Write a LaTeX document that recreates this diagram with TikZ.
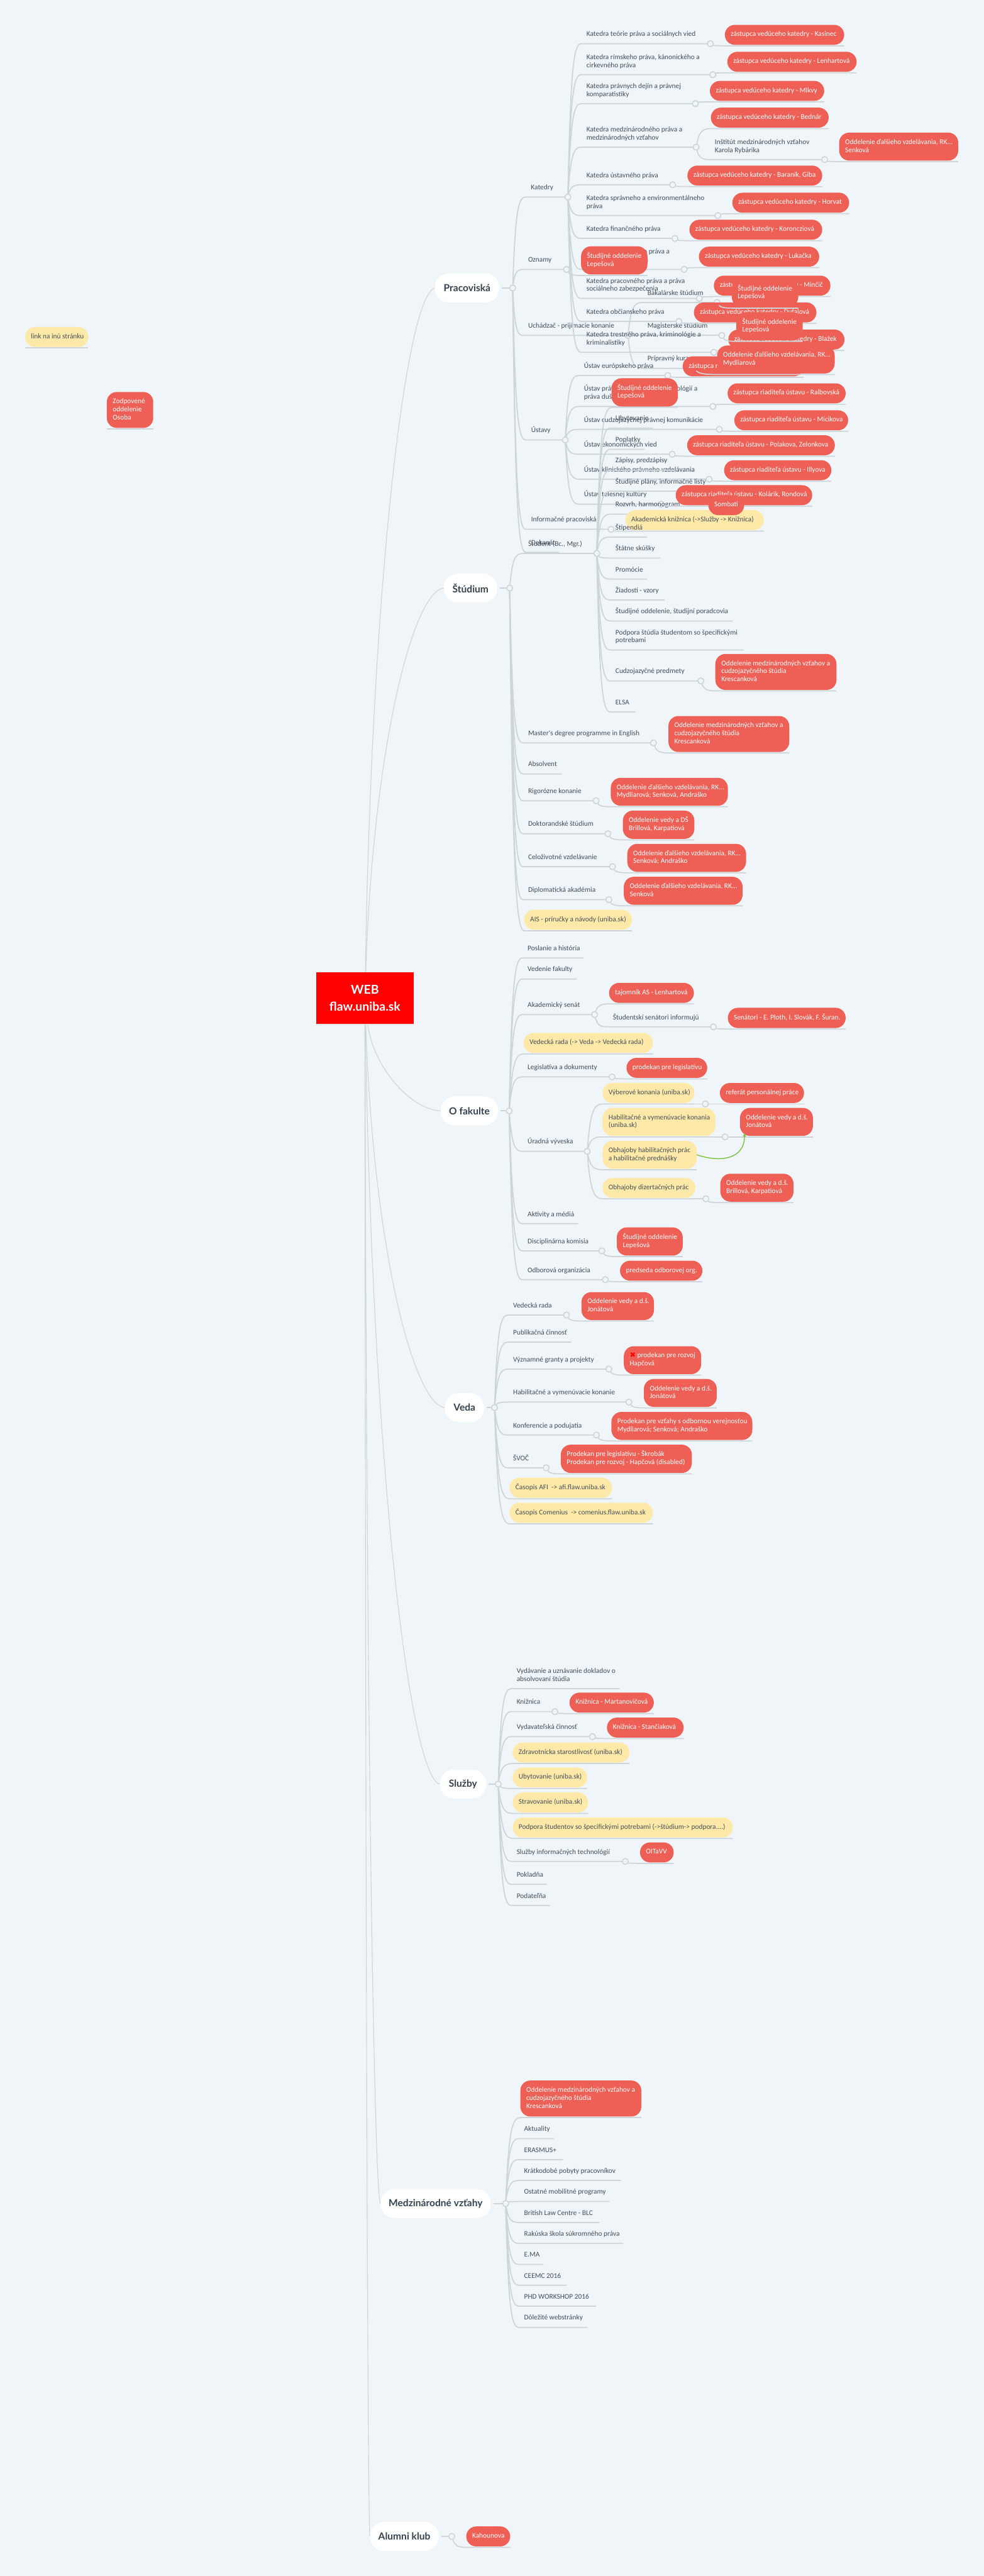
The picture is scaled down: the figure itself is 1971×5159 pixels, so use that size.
\documentclass[tikz,border=0pt]{standalone}
\usepackage{fontspec}
\setmainfont{Lato}
\newfontfamily\bodyfamily{Carlito}
\newfontfamily\symbfont{DejaVu Sans}
\usetikzlibrary{arrows}
\usetikzlibrary{calc}
\usetikzlibrary{shadows}

\definecolor{pagebg}{HTML}{EFF5F9}
\definecolor{linegray}{HTML}{CED5D9}
\definecolor{inkgray}{HTML}{444F58}
\definecolor{headink}{HTML}{36424D}
\definecolor{pillred}{HTML}{EE6055}
\definecolor{pillyellow}{HTML}{FFE9A8}
\definecolor{linkgreen}{HTML}{7DC242}

\newcommand{\bodyfont}{\bodyfamily\fontsize{14.3}{16}\selectfont}

\tikzset{
  bough/.style={draw=linegray, line width=1.4pt},
  twig/.style={draw=linegray, line width=2.2pt},
  knobstyle/.style={circle, draw=linegray, fill=pagebg, line width=2pt, inner sep=0pt, minimum size=12pt},
  head/.style={fill=white, rounded corners=28pt, inner sep=0pt, text=headink, font=\fontsize{19.6}{24}\selectfont\bfseries},
  rootbox/.style={fill=red, inner sep=0pt, text=white, align=center, drop shadow={opacity=.12, shadow xshift=0pt, shadow yshift=-2pt}, font=\fontsize{24.5}{33}\selectfont\bfseries},
  topic/.style={anchor=south west, inner xsep=11pt, inner ysep=10pt, outer sep=0pt, text=inkgray, font=\bodyfont},
  pillbase/.style={anchor=south west, inner xsep=12pt, inner ysep=12pt, outer xsep=0pt, outer ysep=2pt, rounded corners=20pt, font=\bodyfont},
  redpill/.style={pillbase, fill=pillred, text=white},
  yellowpill/.style={pillbase, fill=pillyellow, text=inkgray}
}

% left-set lines in a box of fixed width
\newcommand{\textblock}[2]{\hbox to \dimexpr#1\relax{\begin{tabular}{@{}l@{}}#2\end{tabular}\hss}}

% curve from a knob to the lower left of a node, then along its lower edge
\newcommand{\branch}[2]{\draw[twig] let \p1=(#1), \p2=(#2.south west) in
  (#1) .. controls ({\x1+.2*(\x2-\x1)},{\y1+.8*(\y2-\y1)}) and ({\x1+.4*(\x2-\x1)},\y2) .. (#2.south west) -- (#2.south east);}
% curve from the root to a main node
\newcommand{\trunk}[1]{\draw[bough] let \p1=(web), \p2=(#1.west) in
  (web) .. controls ({\x1+.1*(\x2-\x1)},{\y1+.6*(\y2-\y1)}) and ({\x1+.6*(\x2-\x1)},{\y1+.99*(\y2-\y1)}) .. (#1.west);}

% parent, name, left, line y, right, text
\newcommand{\topic}[6]{\node[topic] (#2) at (#3,#4) {\textblock{#5pt-#3pt-22pt}{#6}}; \branch{#1}{#2}}
% name, style, left, line y, right, text
\newcommand{\pillnode}[6]{\node[#2] (#1) at (#3,#4) {\textblock{#5pt-#3pt-24pt}{#6}};}
% parent, name, style, left, line y, right, text
\newcommand{\pill}[7]{\pillnode{#2}{#3}{#4}{#5}{#6}{#7} \branch{#1}{#2}}
\newcommand{\knob}[1]{\node[knobstyle] (#1-k) at (#1.south east) {};}

\newcommand{\redoe}{Oddelenie ďalšieho vzdelávania, RK...}
\newcommand{\redmv}{Oddelenie medzinárodných vzťahov a\\cudzojazyčného štúdia\\Krescanková}

\begin{document}
\begin{tikzpicture}[>=latex, x=1pt, y=-1pt]

% background
\fill[pagebg] (0,0) rectangle (1971,5159);

% legend
\node[yellowpill] (leglink) at (50,696.9) {\textblock{176.8pt-50pt-24pt}{link na inú stránku}};
\draw[twig] (leglink.south west) -- (leglink.south east);
\node[redpill] (legred) at (214,859) {\textblock{307pt-214pt-24pt}{Zodpovené\\oddelenie\\Osoba}};
\draw[twig] (legred.south west) -- (legred.south east);

% root and main nodes
\node[rootbox, minimum width=196pt, minimum height=104pt] (web) at (731,1999) {WEB\\flaw.uniba.sk};
\node[head, minimum width=129pt, minimum height=58pt] (prac) at (935.7,576.7) {Pracoviská};
\node[head, minimum width=107pt, minimum height=58pt] (stud) at (942.5,1177.7) {Štúdium};
\node[head, minimum width=115pt, minimum height=58pt] (fak) at (940.3,2224.7) {O fakulte};
\node[head, minimum width=79pt, minimum height=58pt] (veda) at (930.5,2819) {Veda};
\node[head, minimum width=93pt, minimum height=58pt] (sluz) at (927.5,3573) {Služby};
\node[head, minimum width=221pt, minimum height=58pt] (medz) at (872.7,4413) {Medzinárodné vzťahy};
\node[head, minimum width=138pt, minimum height=58pt] (alum) at (810,5079.7) {Alumni klub};
\foreach \m in {prac,stud,fak,veda,sluz,medz,alum} {\trunk{\m}}

% knobs of the main nodes
\node[knobstyle] (prac-k) at (1027,576.7) {};
\node[knobstyle] (stud-k) at (1021,1177.7) {};
\node[knobstyle] (fak-k) at (1020,2224.7) {};
\node[knobstyle] (veda-k) at (990.7,2819) {};
\node[knobstyle] (sluz-k) at (998,3573) {};
\node[knobstyle] (medz-k) at (1012.9,4413) {};
\node[knobstyle] (alum-k) at (905,5079.7) {};
\foreach \m in {prac,stud,fak,veda,sluz,medz,alum} {\draw[twig] ([xshift=5pt]\m.east) -- (\m-k);}

% applicants
\topic{prac-k}{uch}{1047}{671.7}{1258}{Uchádzač - prijímacie konanie} \knob{uch}
\topic{uch-k}{bak}{1286}{605.7}{1436.5}{Bakalárske štúdium} \knob{bak}
\topic{uch-k}{mag}{1286}{671.7}{1446}{Magisterské štúdium} \knob{mag}
\topic{uch-k}{pri}{1286}{737.7}{1390}{Prípravný kurz} \knob{pri}

% departments
\topic{prac-k}{kat}{1052.6}{394.6}{1137.6}{Katedry} \knob{kat}
\topic{kat-k}{kat1}{1164}{87.5}{1423}{Katedra teórie práva a sociálnych vied} \knob{kat1}
\pill{kat1-k}{zk1}{redpill}{1452}{91.8}{1691}{zástupca vedúceho katedry - Kasinec}
\topic{kat-k}{kat2}{1164}{149.6}{1428}{Katedra rímskeho práva, kánonického a\\cirkevného práva} \knob{kat2}
\pill{kat2-k}{zk2}{redpill}{1457}{145.7}{1716}{zástupca vedúceho katedry - Lenhartová}
\topic{kat-k}{kat3}{1164}{207.5}{1393}{Katedra právnych dejín a právnej\\komparatistiky} \knob{kat3}
\pill{kat3-k}{zk3}{redpill}{1422}{204}{1651}{zástupca vedúceho katedry - Mlkvy}
\topic{kat-k}{kat4}{1164}{294.6}{1394.5}{Katedra medzinárodného práva a\\medzinárodných vzťahov} \knob{kat4}
\pill{kat4-k}{zk4}{redpill}{1424}{257.5}{1660}{zástupca vedúceho katedry - Bednár}
\topic{kat4-k}{imv}{1421}{319.6}{1652}{Inštitút medzinárodných vzťahov\\Karola Rybárika} \knob{imv}
\pill{imv-k}{zimv}{redpill}{1681}{323.6}{1919.5}{\redoe\\Senková}
\topic{kat-k}{kat5}{1164}{370}{1347.4}{Katedra ústavného práva} \knob{kat5}
\pill{kat5-k}{zk5}{redpill}{1377}{373.6}{1647}{zástupca vedúceho katedry - Baraník, Giba}
\topic{kat-k}{kat6}{1164}{431.8}{1438}{Katedra správneho a environmentálneho\\práva} \knob{kat6}
\pill{kat6-k}{zk6}{redpill}{1467}{428}{1701}{zástupca vedúceho katedry - Horvat}
\topic{kat-k}{kat7}{1164}{477.5}{1352}{Katedra finančného práva} \knob{kat7}
\pill{kat7-k}{zk7}{redpill}{1381}{482}{1647}{zástupca vedúceho katedry - Koroncziová}
\topic{kat-k}{kat8}{1164}{539.6}{1370.6}{Katedra obchodného práva a\\hospodárskeho práva} \knob{kat8}
\pill{kat8-k}{zk8}{redpill}{1400}{536}{1641}{zástupca vedúceho katedry - Lukačka}
\topic{kat-k}{kat9}{1164}{597.7}{1400.8}{Katedra pracovného práva a práva\\sociálneho zabezpečenia} \knob{kat9}
\pill{kat9-k}{zk9}{redpill}{1430}{594}{1663.5}{zástupca vedúceho katedry - Minčič}
\topic{kat-k}{kat10}{1164}{643.7}{1360}{Katedra občianskeho práva} \knob{kat10}
\pill{kat10-k}{zk10}{redpill}{1390}{647.7}{1635.5}{zástupca vedúceho katedry - Dufalová}
\topic{kat-k}{kat11}{1164}{705.7}{1430}{Katedra trestného práva, kriminológie a\\kriminalistiky} \knob{kat11}
\pill{kat11-k}{zk11}{redpill}{1459}{702}{1691.6}{zástupca vedúceho katedry - Blažek}

% notices
\topic{prac-k}{ozn}{1047}{539.7}{1134.8}{Oznamy} \knob{ozn}
\pill{ozn-k}{zozn}{redpill}{1164}{551.7}{1297}{Študijné oddelenie\\Lepešová}

% institutes
\topic{prac-k}{ust}{1053}{881}{1132.3}{Ústavy} \knob{ust}
\topic{ust-k}{ust1}{1159}{752}{1337.6}{Ústav európskeho práva} \knob{ust1}
\topic{ust-k}{ust2}{1159}{814}{1428}{Ústav práva informačných technológií a\\práva duševného vlastníctva} \knob{ust2}
\topic{ust-k}{ust3}{1159}{860}{1441}{Ústav cudzojazyčnej právnej komunikácie} \knob{ust3}
\topic{ust-k}{ust4}{1159}{909.7}{1346.5}{Ústav ekonomických vied} \knob{ust4}
\topic{ust-k}{ust5}{1159}{959.7}{1420.5}{Ústav klinického právneho vzdelávania} \knob{ust5}
\topic{ust-k}{ust6}{1159}{1009.7}{1324}{Ústav telesnej kultúry} \knob{ust6}

% students
\topic{stud-k}{stu}{1047}{1108.3}{1195.4}{Študent (Bc., Mgr.)} \knob{stu}
\pill{stu-k}{zstu}{redpill}{1225}{816}{1358}{Študijné oddelenie\\Lepešová}
\topic{stu-k}{ubyt}{1222}{857.3}{1308}{Ubytovanie}
\topic{stu-k}{popl}{1222}{900}{1291}{Poplatky}
\topic{stu-k}{zap}{1222}{941.7}{1352}{Zápisy, predzápisy}
\topic{stu-k}{plan}{1222}{983.7}{1426}{Študijné plány, informačné listy}
\topic{stu-k}{roz}{1222}{1029.7}{1392}{Rozvrh, harmonogram} \knob{roz}
\coordinate (somb-l) at (1419,1033.7);
\coordinate (somb-r) at (1490.7,1033.7);
\draw[twig] (roz-k) -- (somb-l) -- (somb-r);

% information offices, dean's office
\topic{prac-k}{inf}{1053}{1060}{1224}{Informačné pracoviská} \knob{inf}
\pill{inf-k}{aka}{yellowpill}{1252.8}{1063.7}{1530}{Akademická knižnica (->Služby -> Knižnica)}
\topic{prac-k}{dek}{1053}{1106}{1119.5}{Dekanát}

% rest of the students
\topic{stu-k}{stip}{1222}{1075.7}{1296}{Štipendiá}
\topic{stu-k}{skus}{1222}{1117.7}{1324}{Štátne skúšky}
\topic{stu-k}{prom}{1222}{1159.7}{1296}{Promócie}
\topic{stu-k}{ziad}{1222}{1201.7}{1331}{Žiadosti - vzory}
\topic{stu-k}{odd}{1222}{1243.7}{1467.7}{Študijné oddelenie, študijní poradcovia}
\topic{stu-k}{podp}{1222}{1301.7}{1489.4}{Podpora štúdia študentom so špecifickými\\potrebami}
\topic{stu-k}{cudz}{1222}{1363.7}{1404}{Cudzojazyčné predmety} \knob{cudz}
\pill{cudz-k}{zcudz}{redpill}{1433}{1383.7}{1675.6}{\redmv}
\topic{stu-k}{elsa}{1222}{1425.7}{1272.6}{ELSA}

% institute deputies
\pill{ust1-k}{zu1}{redpill}{1367.6}{755.7}{1610}{zástupca riaditeľa ústavu}
\pill{ust2-k}{zu2}{redpill}{1457.5}{809.7}{1694}{zástupca riaditeľa ústavu - Ralbovská}
\pill{ust3-k}{zu3}{redpill}{1471}{863.7}{1699}{zástupca riaditeľa ústavu - Micikova}
\pill{ust4-k}{zu4}{redpill}{1376.5}{913.7}{1672.4}{zástupca riaditeľa ústavu - Polakova, Zelonkova}
\pill{ust5-k}{zu5}{redpill}{1450.5}{963.7}{1665.4}{zástupca riaditeľa ústavu - Illyova}
\pill{ust6-k}{zu6}{redpill}{1353.6}{1013.7}{1627}{zástupca riaditeľa ústavu - Kolárik, Rondová}
\pillnode{somb}{redpill}{1419}{1033.7}{1490.7}{Sombati}

% offices of the applicants
\pill{bak-k}{zbak}{redpill}{1466}{617}{1599}{Študijné oddelenie\\Lepešová}
\pill{mag-k}{zmag}{redpill}{1475}{683.7}{1608}{Študijné oddelenie\\Lepešová}
\pill{pri-k}{zpri}{redpill}{1436.5}{750}{1672}{\redoe\\Mydliarová}

% further study
\topic{stud-k}{mast}{1047}{1487.7}{1309}{Master's degree programme in English} \knob{mast}
\pill{mast-k}{zmast}{redpill}{1339}{1508}{1581}{\redmv}
\topic{stud-k}{abs}{1047}{1550}{1124.6}{Absolvent}
\topic{stud-k}{rig}{1047}{1603.7}{1194}{Rigorózne konanie} \knob{rig}
\pill{rig-k}{zrig}{redpill}{1223.5}{1615.7}{1458}{\redoe\\Mydliarová; Senková, Andraško}
\topic{stud-k}{dokt}{1047}{1669.7}{1217.7}{Doktorandské štúdium} \knob{dokt}
\pill{dokt-k}{zdokt}{redpill}{1247.7}{1682}{1391}{Oddelenie vedy a DŠ\\Brillová, Karpatiová}
\topic{stud-k}{celo}{1047}{1735.7}{1227}{Celoživotné vzdelávanie} \knob{celo}
\pill{celo-k}{zcelo}{redpill}{1256.6}{1748}{1494.5}{\redoe\\Senková; Andraško}
\topic{stud-k}{dipl}{1047}{1801.7}{1219.6}{Diplomatická akadémia} \knob{dipl}
\pill{dipl-k}{zdipl}{redpill}{1249.6}{1814}{1487.5}{\redoe\\Senková}
\pill{stud-k}{ais}{yellowpill}{1050}{1864}{1266}{AIS - príručky a návody (uniba.sk)}

% faculty
\topic{fak-k}{posl}{1046}{1918.5}{1168.6}{Poslanie a história}
\topic{fak-k}{ved}{1046}{1960.7}{1155}{Vedenie fakulty}
\topic{fak-k}{sen}{1046}{2031.8}{1191}{Akademický senát} \knob{sen}
\pill{sen-k}{ztaj}{redpill}{1220}{2010.5}{1390}{tajomník AS - Lenhartová}
\topic{sen-k}{ssen}{1217}{2056.5}{1429}{Študentskí senátori informujú} \knob{ssen}
\pill{ssen-k}{zsen}{redpill}{1458}{2060.8}{1694}{Senátori - E. Ploth, I. Slovák, F. Šuran.}
\pill{fak-k}{vrad}{yellowpill}{1048.7}{2110.7}{1308}{Vedecká rada (-> Veda -> Vedecká rada)}
\topic{fak-k}{leg}{1046}{2156.7}{1226}{Legislatíva a dokumenty} \knob{leg}
\pill{leg-k}{zleg}{redpill}{1255}{2160.6}{1416.7}{prodekan pre legislatívu}
\topic{fak-k}{vyv}{1046}{2305.8}{1176.3}{Úradná výveska} \knob{vyv}
\pill{vyv-k}{vyb}{yellowpill}{1207}{2210.9}{1391}{Výberové konania (uniba.sk)}
\coordinate (vyb-e) at (1413,2210.9);
\draw[twig] (vyb.south east) -- (vyb-e);
\node[knobstyle] (vyb-k) at (vyb-e) {};
\pill{vyb-k}{zvyb}{redpill}{1442}{2210.9}{1610.6}{referát personálnej práce}
\pill{vyv-k}{hab}{yellowpill}{1207}{2276.8}{1433}{Habilitačné a vymenúvacie konania\\(uniba.sk)}
\coordinate (hab-e) at (1452.4,2276.8);
\draw[twig] (hab.south east) -- (hab-e);
\node[knobstyle] (hab-k) at (hab-e) {};
\pill{hab-k}{zhab}{redpill}{1482.4}{2276.8}{1628.4}{Oddelenie vedy a d.š.\\Jonátová}
\pill{vyv-k}{obh}{yellowpill}{1207}{2342.7}{1395.7}{Obhajoby habilitačných prác\\a habilitačné prednášky}
\pill{vyv-k}{diz}{yellowpill}{1207}{2400.8}{1393}{Obhajoby dizertačných prác}
\coordinate (diz-e) at (1414,2400.8);
\draw[twig] (diz.south east) -- (diz-e);
\node[knobstyle] (diz-k) at (diz-e) {};
\pill{diz-k}{zdiz}{redpill}{1443}{2408.6}{1589.5}{Oddelenie vedy a d.š.\\Brillová, Karpatiová}
\draw[->, linkgreen, line width=1.8pt] (obh.east) .. controls +(44,15) and ($(zhab.south west)+(9,47)$) .. ($(zhab.south west)+(9,-9)$);
\topic{fak-k}{akt}{1046}{2450.7}{1158}{Aktivity a médiá}
\topic{fak-k}{disc}{1046}{2505}{1205.6}{Disciplinárna komisia} \knob{disc}
\pill{disc-k}{zdisc}{redpill}{1235.6}{2516.6}{1367.6}{Študijné oddelenie\\Lepešová}
\topic{fak-k}{odb}{1046}{2562.9}{1212.6}{Odborová organizácia} \knob{odb}
\pill{odb-k}{zodb}{redpill}{1242}{2566.8}{1407}{predseda odborovej org.}

% science
\topic{veda-k}{vr}{1017}{2633.6}{1134.8}{Vedecká rada} \knob{vr}
\pill{vr-k}{zvr}{redpill}{1164.8}{2645.7}{1310}{Oddelenie vedy a d.š.\\Jonátová}
\topic{veda-k}{publ}{1017}{2687.9}{1144.4}{Publikačná činnosť}
\topic{veda-k}{gr}{1017}{2741.8}{1219.6}{Významné granty a projekty} \knob{gr}
\pill{gr-k}{zgr}{redpill}{1249.6}{2754}{1404.6}{{\symbfont\textcolor{red}{✖}} prodekan pre rozvoj\\Hapčová}
\topic{veda-k}{hk}{1017}{2807.9}{1259.8}{Habilitačné a vymenúvacie konanie} \knob{hk}
\pill{hk-k}{zhk}{redpill}{1289.8}{2819.6}{1435.8}{Oddelenie vedy a d.š.\\Jonátová}
\topic{veda-k}{konf}{1017}{2874}{1194.8}{Konferencie a podujatia} \knob{konf}
\pill{konf-k}{zkonf}{redpill}{1224.7}{2885.7}{1507}{Prodekan pre vzťahy s odbornou verejnosťou\\Mydliarová; Senková; Andraško}
\topic{veda-k}{svoc}{1017}{2939.6}{1094}{ŠVOČ} \knob{svoc}
\pill{svoc-k}{zsvoc}{redpill}{1123.3}{2951.8}{1386}{Prodekan pre legislatívu - Škrobák\\Prodekan pre rozvoj - Hapčová (disabled)}
\pill{veda-k}{afi}{yellowpill}{1020.7}{3001.8}{1226}{Časopis AFI\ \ -> afi.flaw.uniba.sk}
\pill{veda-k}{com}{yellowpill}{1020.7}{3051.8}{1307.7}{Časopis Comenius\ \ -> comenius.flaw.uniba.sk}

% services
\topic{sluz-k}{vyd}{1024}{3381.8}{1241}{Vydávanie a uznávanie dokladov o\\absolvovaní štúdia}
\topic{sluz-k}{kniz}{1024}{3427.9}{1111.7}{Knižnica} \knob{kniz}
\pill{kniz-k}{zkniz}{redpill}{1140.8}{3431.8}{1309.7}{Knižnica - Martanovičová}
\topic{sluz-k}{vydc}{1024}{3477.9}{1186.7}{Vydavateľská činnosť} \knob{vydc}
\pill{vydc-k}{zvydc}{redpill}{1215.8}{3481.8}{1369.4}{Knižnica - Stančiaková}
\pill{sluz-k}{zdr}{yellowpill}{1027}{3531.8}{1260.7}{Zdravotnícka starostlivosť (uniba.sk)}
\pill{sluz-k}{uby}{yellowpill}{1027}{3581.8}{1176}{Ubytovanie (uniba.sk)}
\pill{sluz-k}{stra}{yellowpill}{1027}{3631.8}{1178}{Stravovanie (uniba.sk)}
\pill{sluz-k}{pods}{yellowpill}{1027}{3681.8}{1467.9}{Podpora študentov so špecifickými potrebami (->štúdium-> podpora....)}
\topic{sluz-k}{it}{1024}{3727.9}{1252.6}{Služby informačných technológií} \knob{it}
\pill{it-k}{zit}{redpill}{1282}{3731.8}{1349.5}{OITaVV}
\topic{sluz-k}{pokl}{1024}{3773.9}{1095.4}{Pokladňa}
\topic{sluz-k}{poda}{1024}{3816}{1101.5}{Podateľňa}

% international relations
\pill{medz-k}{zmedz}{redpill}{1042.3}{4240.7}{1284.7}{\redmv}
\topic{medz-k}{aktu}{1039}{4282.9}{1109.7}{Aktuality}
\topic{medz-k}{eras}{1039}{4325}{1127.6}{ERASMUS+}
\topic{medz-k}{krat}{1039}{4366.8}{1243.7}{Krátkodobé pobyty pracovníkov}
\topic{medz-k}{ost}{1039}{4409}{1221.3}{Ostatné mobilitné programy}
\topic{medz-k}{blc}{1039}{4451}{1200.4}{British Law Centre - BLC}
\topic{medz-k}{rak}{1039}{4492.9}{1248.6}{Rakúska škola súkromného práva}
\topic{medz-k}{ema}{1039}{4535}{1088.8}{E.MA}
\topic{medz-k}{ceem}{1039}{4576.8}{1134.7}{CEEMC 2016}
\topic{medz-k}{phd}{1039}{4618.6}{1193.7}{PHD WORKSHOP 2016}
\topic{medz-k}{dol}{1039}{4661}{1176.7}{Dôležité webstránky}

% alumni
\pill{alum-k}{zalum}{redpill}{934}{5101.7}{1022}{Kahounova}

\end{tikzpicture}
\end{document}
